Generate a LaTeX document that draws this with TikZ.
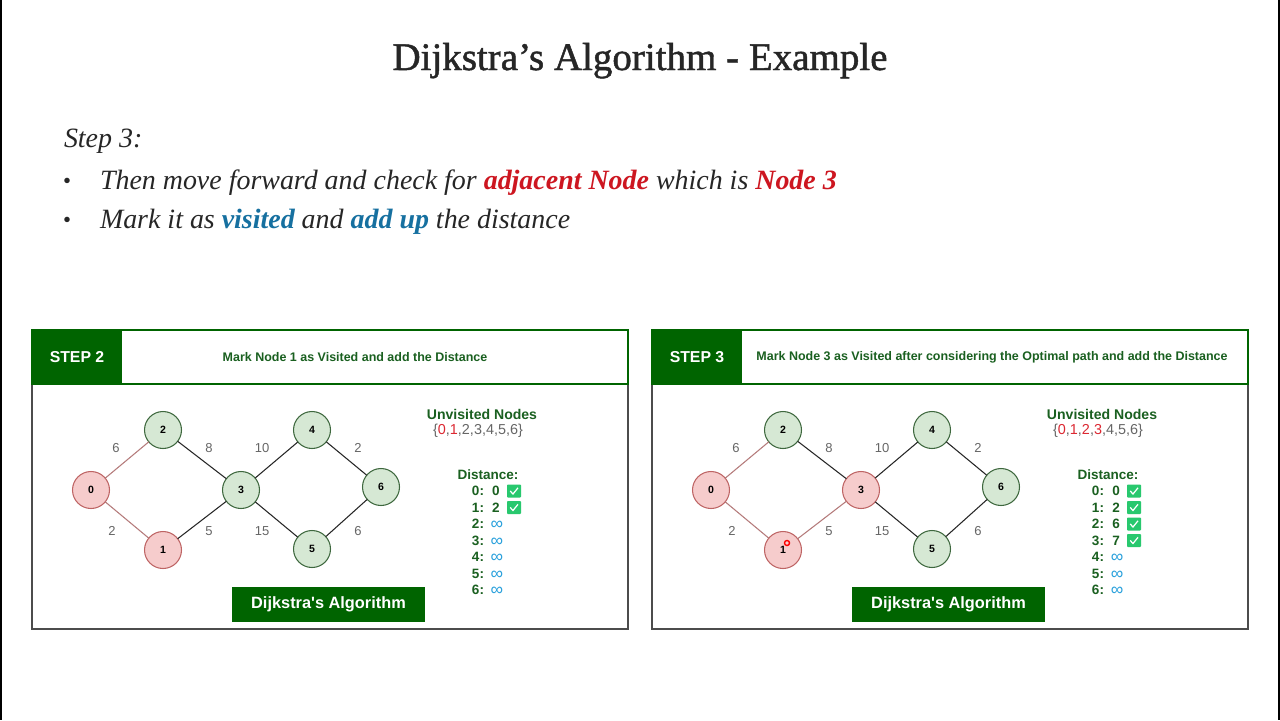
\documentclass[tikz,border=0pt]{standalone}
\usepackage{fontspec}
\setmainfont{Liberation Serif}
\setsansfont{Liberation Sans}
\newfontfamily\titlefont[FakeBold=1.2]{Liberation Serif}
\definecolor{hdrgreen}{RGB}{0,100,0}
\definecolor{txtgreen}{RGB}{26,96,32}
\definecolor{vfill}{RGB}{246,204,204}
\definecolor{vline}{RGB}{190,100,100}
\definecolor{ufill}{RGB}{214,232,212}
\definecolor{uline}{RGB}{62,104,62}
\definecolor{pathred}{RGB}{180,122,122}
\definecolor{markred}{RGB}{205,22,32}
\definecolor{markblue}{RGB}{22,112,160}
\definecolor{setred}{RGB}{220,40,50}
\definecolor{infblue}{RGB}{40,160,220}
\definecolor{tickgreen}{RGB}{40,200,110}
\definecolor{slidetext}{RGB}{38,38,38}
\tikzset{
  gnode/.style={circle, draw=uline, fill=ufill, line width=0.6pt, minimum size=0.74cm,
    font=\sffamily\bfseries\fontsize{6}{7}\selectfont},
  rnode/.style={gnode, draw=vline, fill=vfill},
  link/.style={line width=0.6pt, draw=black!85},
  redlink/.style={link, draw=pathred},
  wlabel/.style={text=black!60, font=\sffamily\fontsize{7.4}{8}\selectfont},
  steplabel/.style={text=white, font=\sffamily\bfseries\fontsize{9}{10}\selectfont},
  hdrtext/.style={text=txtgreen, font=\sffamily\bfseries\fontsize{7.1}{8}\selectfont},
  listhead/.style={text=txtgreen, font=\sffamily\bfseries\fontsize{8}{9}\selectfont},
  distrow/.style={text=txtgreen, font=\sffamily\bfseries\fontsize{7.7}{9}\selectfont},
  infval/.style={text=infblue, font=\sffamily\fontsize{10}{11}\selectfont},
  slideline/.style={text=slidetext, font=\itshape\fontsize{15.9}{19}\selectfont, anchor=base west},
  algobox/.style={fill=hdrgreen, text=white, minimum width=3.86cm, minimum height=0.7cm,
    font=\sffamily\bfseries\fontsize{9.3}{10}\selectfont},
  checkmark/.pic={
    \fill[tickgreen, rounded corners=0.5pt] (-7,-6.5) rectangle (7,6.5);
    \draw[white, line width=0.7pt] (-3.8,0) -- (-1,3) -- (4,-3.2);
  }
}
\begin{document}
\begin{tikzpicture}[x=0.02cm, y=-0.02cm, every node/.style={inner sep=0pt, outer sep=0pt}]
  \useasboundingbox (0,0) rectangle (1280,720);
  \fill[white] (0,0) rectangle (1280,720);
  \draw[black, line width=1.2pt] (0.5,0) -- (0.5,720);
  \draw[black, line width=1.2pt] (1279.5,0) -- (1279.5,720);

  % slide text
  \node[text=slidetext, font=\titlefont\fontsize{22.2}{26}\selectfont, anchor=base] (title) at (640,70)
    {Dijkstra’s Algorithm - Example};
  \node[slideline] (step) at (64,147) {Step 3:};
  \node[slideline, font=\fontsize{13}{15}\selectfont] (dot1) at (63,188) {•};
  \node[slideline, font=\fontsize{13}{15}\selectfont] (dot2) at (63,227) {•};
  \node[slideline] (line1) at (100,189)
    {Then move forward and check for \textcolor{markred}{\bfseries adjacent Node} which is \textcolor{markred}{\bfseries Node 3}};
  \node[slideline] (line2) at (100,228)
    {Mark it as \textcolor{markblue}{\bfseries visited} and \textcolor{markblue}{\bfseries add up} the distance};

  % step 2 panel
  \begin{scope}[name prefix=L-]
    \draw[black!70, line width=0.6pt] (32,330) rectangle (628,629);
    \draw[hdrgreen, line width=0.6pt, fill=white] (32,330) rectangle (628,384);
    \fill[hdrgreen] (32,330) rectangle (122,384);
    \node[steplabel] (step) at (77,357) {STEP 2};
    \node[hdrtext] (head) at (355,357) {Mark Node 1 as Visited and add the Distance};

    \node[rnode] (n0) at (91,490) {0};
    \node[gnode] (n2) at (163,430) {2};
    \node[rnode] (n1) at (163,550) {1};
    \node[gnode] (n3) at (241,490) {3};
    \node[gnode] (n4) at (312,430) {4};
    \node[gnode] (n5) at (312,549) {5};
    \node[gnode] (n6) at (381,487) {6};
    \draw[redlink] (n0) -- (n2);
    \draw[redlink] (n0) -- (n1);
    \draw[link] (n2) -- (n3);
    \draw[link] (n1) -- (n3);
    \draw[link] (n3) -- (n4);
    \draw[link] (n3) -- (n5);
    \draw[link] (n4) -- (n6);
    \draw[link] (n5) -- (n6);
    \node[wlabel] (w02) at (116,448) {6};
    \node[wlabel] (w23) at (209,448) {8};
    \node[wlabel] (w34) at (262,448) {10};
    \node[wlabel] (w46) at (358,448) {2};
    \node[wlabel] (w01) at (112,531) {2};
    \node[wlabel] (w13) at (209,531) {5};
    \node[wlabel] (w35) at (262,531) {15};
    \node[wlabel] (w56) at (358,531) {6};

    \node[listhead] (unv) at (482,414) {Unvisited Nodes};
    \node[wlabel, font=\sffamily\fontsize{8.2}{9}\selectfont] (set) at (478,431)
      {\{\textcolor{setred}{0},\textcolor{setred}{1},2,3,4,5,6\}};
    \node[distrow] (dist) at (488,475) {Distance:};
    \foreach \k/\v [evaluate=\k as \y using 491+16.5*\k] in {0/0,1/2} {
      \node[distrow, anchor=east] (d\k) at (484,\y) {\k:};
      \node[distrow] (v\k) at (496,\y) {\v};
      \pic at (514,\y) {checkmark};
    }
    \foreach \k [evaluate=\k as \y using 491+16.5*\k] in {2,...,6} {
      \node[distrow, anchor=east] (d\k) at (484,\y) {\k:};
      \node[infval] (v\k) at (497,\y+1.5) {∞};
    }
    \node[algobox] (algo) at (328.5,604.5) {Dijkstra\textquotesingle s Algorithm};
  \end{scope}

  % step 3 panel
  \begin{scope}[shift={(620,0)}, name prefix=R-]
    \draw[black!70, line width=0.6pt] (32,330) rectangle (628,629);
    \draw[hdrgreen, line width=0.6pt, fill=white] (32,330) rectangle (628,384);
    \fill[hdrgreen] (32,330) rectangle (122,384);
    \node[steplabel] (step) at (77,357) {STEP 3};
    \node[hdrtext] (head) at (372,357)
      {Mark Node 3 as Visited after considering the Optimal path and add the Distance};

    \node[rnode] (n0) at (91,490) {0};
    \node[gnode] (n2) at (163,430) {2};
    \node[rnode] (n1) at (163,550) {1};
    \node[rnode] (n3) at (241,490) {3};
    \node[gnode] (n4) at (312,430) {4};
    \node[gnode] (n5) at (312,549) {5};
    \node[gnode] (n6) at (381,487) {6};
    \draw[redlink] (n0) -- (n2);
    \draw[redlink] (n0) -- (n1);
    \draw[link] (n2) -- (n3);
    \draw[redlink] (n1) -- (n3);
    \draw[link] (n3) -- (n4);
    \draw[link] (n3) -- (n5);
    \draw[link] (n4) -- (n6);
    \draw[link] (n5) -- (n6);
    \draw[red, line width=0.8pt] (167,543) circle (2.5);
    \node[wlabel] (w02) at (116,448) {6};
    \node[wlabel] (w23) at (209,448) {8};
    \node[wlabel] (w34) at (262,448) {10};
    \node[wlabel] (w46) at (358,448) {2};
    \node[wlabel] (w01) at (112,531) {2};
    \node[wlabel] (w13) at (209,531) {5};
    \node[wlabel] (w35) at (262,531) {15};
    \node[wlabel] (w56) at (358,531) {6};

    \node[listhead] (unv) at (482,414) {Unvisited Nodes};
    \node[wlabel, font=\sffamily\fontsize{8.2}{9}\selectfont] (set) at (478,431)
      {\{\textcolor{setred}{0},\textcolor{setred}{1},\textcolor{setred}{2},\textcolor{setred}{3},4,5,6\}};
    \node[distrow] (dist) at (488,475) {Distance:};
    \foreach \k/\v [evaluate=\k as \y using 491+16.5*\k] in {0/0,1/2,2/6,3/7} {
      \node[distrow, anchor=east] (d\k) at (484,\y) {\k:};
      \node[distrow] (v\k) at (496,\y) {\v};
      \pic at (514,\y) {checkmark};
    }
    \foreach \k [evaluate=\k as \y using 491+16.5*\k] in {4,5,6} {
      \node[distrow, anchor=east] (d\k) at (484,\y) {\k:};
      \node[infval] (v\k) at (497,\y+1.5) {∞};
    }
    \node[algobox] (algo) at (328.5,604.5) {Dijkstra\textquotesingle s Algorithm};
  \end{scope}
\end{tikzpicture}
\end{document}
